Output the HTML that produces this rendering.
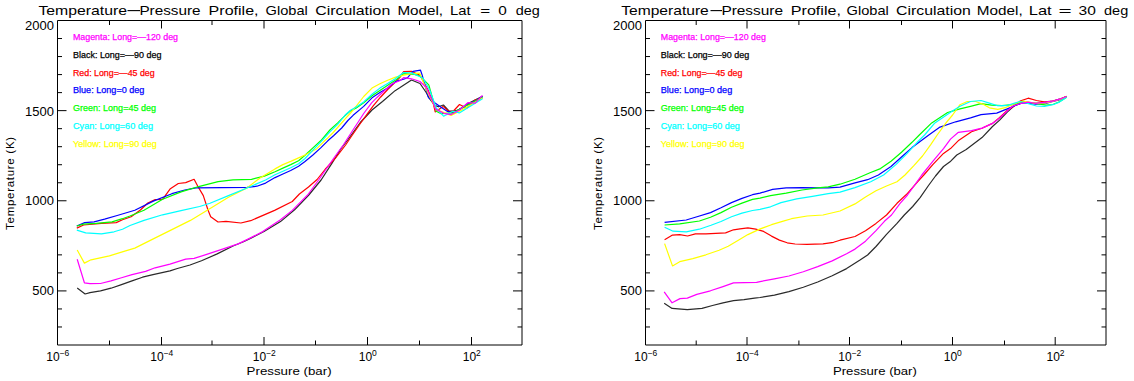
<!DOCTYPE html>
<html><head><meta charset="utf-8"><title>Temperature-Pressure Profile</title><style>
html,body{margin:0;padding:0;background:#fff;width:1134px;height:381px;overflow:hidden}
svg{display:block}
text{font-family:"Liberation Sans", sans-serif}
</style></head><body>
<svg width="1134" height="381" viewBox="0 0 1134 381">
<path d="M57.5 20.5H522V345H57.5Z" fill="none" stroke="#000" stroke-width="1"/>
<path d="M109.50 345v-4.5M109.50 20.5v4.5M161.50 345v-8M161.50 20.5v8M212.00 345v-4.5M212.00 20.5v4.5M264.00 345v-8M264.00 20.5v8M315.50 345v-4.5M315.50 20.5v4.5M367.50 345v-8M367.50 20.5v8M419.50 345v-4.5M419.50 20.5v4.5M471.50 345v-8M471.50 20.5v8M57.5 326.97h4.5M522 326.97h-4.5M57.5 308.94h4.5M522 308.94h-4.5M57.5 290.92h9M522 290.92h-9M57.5 272.89h4.5M522 272.89h-4.5M57.5 254.86h4.5M522 254.86h-4.5M57.5 236.83h4.5M522 236.83h-4.5M57.5 218.81h4.5M522 218.81h-4.5M57.5 200.78h9M522 200.78h-9M57.5 182.75h4.5M522 182.75h-4.5M57.5 164.72h4.5M522 164.72h-4.5M57.5 146.69h4.5M522 146.69h-4.5M57.5 128.67h4.5M522 128.67h-4.5M57.5 110.64h9M522 110.64h-9M57.5 92.61h4.5M522 92.61h-4.5M57.5 74.58h4.5M522 74.58h-4.5M57.5 56.56h4.5M522 56.56h-4.5M57.5 38.53h4.5M522 38.53h-4.5" fill="none" stroke="#000" stroke-width="1"/>
<polyline points="77.2,288.1 85.1,294 90,292.6 100.5,290.9 111,288.2 121.5,284.6 132,280.9 142.5,277.2 153,274.6 170,270.9 177.4,268.5 190,265 201.5,260.7 217.2,253.9 233,246 243.5,241.8 250.9,238.2 264,231.5 280.5,221.6 294.6,209.8 308.8,195 321.1,180 331.9,163.3 341.1,148.5 347.7,140 360.3,122.5 372,110 382.5,101.5 395.1,90.65 399.7,87.8 411.5,80 420,83.5 426.2,92.5 429.2,98.1 434.7,105.4 438.4,106.8 443.4,105 449.4,111.4 457.7,110.4 467.6,103.8 482.5,96.4" fill="none" stroke="#2a2a2a" stroke-width="1.2" stroke-linejoin="round"/>
<polyline points="76.8,228.1 83.6,225 101.5,223.4 116.2,222.6 122.5,219.7 131.1,216.7 140.4,210 147.8,203 155.2,199.6 162.6,199.3 170,189.1 178.3,183.5 185.7,182.6 194.1,179.3 197.8,186.3 203.3,195.6 208,210 210.7,216.7 218,222 226,221.4 240.9,223 250.7,220.7 274.6,210.4 292.3,201.5 299.4,194 308.5,187 317.1,179.5 325,169.5 335.6,157.8 345.6,145 352,135.5 361.4,122 367.7,113.3 373.2,105.88 380.7,96.97 387.7,89.47 395.6,81.91 399.7,77.6 403.6,71.7 411.5,71.3 420,75.2 427.9,89.8 432.9,101.8 435.2,111.9 443,106.4 448.5,111 453,111.5 459.5,104.5 466.8,108.2 475.1,99.9 482.4,98.1" fill="none" stroke="#ff0000" stroke-width="1.2" stroke-linejoin="round"/>
<polyline points="76.8,226 84.7,222.6 94.1,221.8 104.6,219.2 117.2,215.5 134.8,210.2 153.3,201.1 171.9,193.7 184.8,190 195.9,187.8 247,187.4 256.9,186.2 265.6,183.1 275,177.6 282.9,174 290.7,170.5 298.6,166.2 305,161.5 312.9,155 320.7,147.9 327.8,140.8 333.8,135.5 341.7,128 347.9,120.5 353.1,115.31 363.7,106.4 372,97.8 379.9,92.6 387.7,87.9 395.7,81.5 403.6,79.2 407.6,77.6 413,71.3 420.5,70.2 422.1,74.9 428.3,97.2 434.7,102.7 441.1,107.3 447.5,111.4 452.1,112.8 459.3,109.6 467.6,104.6 475.9,100.5 482.5,96.4" fill="none" stroke="#0000ff" stroke-width="1.2" stroke-linejoin="round"/>
<polyline points="76.8,226 83.6,224.2 96.2,223.4 112,221.8 122.5,218.7 130,216 144,210.2 162.6,199.3 181.1,191.9 199.6,186.3 218.1,181.7 233,179.8 251.5,179.3 264.4,176.1 275,171.7 282.9,168.1 290.7,164.6 298.6,160.7 305,155.3 312.9,147.9 320.7,140.8 329.9,130 337.7,122.9 344.8,115.8 350.5,110.86 355.9,108.21 363.7,102.7 372,95.7 379.9,90.5 387.7,85.3 395.6,80.1 403.6,73.7 414.6,74.4 420,76 428.8,84.8 436.2,111.2 441.2,113.7 452.7,112.9 482.5,97.2" fill="none" stroke="#00ff00" stroke-width="1.2" stroke-linejoin="round"/>
<polyline points="77.2,250 84.4,263.1 91,259.8 109.4,255.9 125.6,250.9 134.8,248.1 153.3,238.9 171.9,229.6 190.4,220.4 208.9,209.3 228.5,197.3 247.5,187.6 260,178 275,168.9 282.9,164.6 290.7,161.4 298.6,157.9 305,155 316.8,148.7 323.6,141.8 328,137.7 333.2,132.5 338.5,126.5 345.2,118.8 350.5,113 355.9,106.5 363.7,96.5 372,88.1 379.9,83.7 387.7,80.2 395.6,77.1 403.6,75.2 411.5,73.7 419.7,73.2 427.9,93 436.2,109.6 451.1,115.4 462.6,109.6 482.5,98" fill="none" stroke="#ffff00" stroke-width="1.2" stroke-linejoin="round"/>
<polyline points="76.8,230.2 85.7,232.8 101.5,233.9 114.1,231.8 122.5,229.2 130,225.5 144,220.4 162.6,214.8 181,210.55 199.6,206.48 210,203.26 228.5,195.59 247,188 265.6,180 275,174.8 282.9,171.3 290.7,167.7 298.6,163.8 305,158.5 312.9,150.2 322.3,140.3 329.9,131.9 337.7,124.4 345.2,115 350.5,110.26 355.9,107.21 363.7,101.9 372,94.2 379.9,88.1 387.7,83.4 395.6,78.5 403.6,72.5 411.5,72.9 420,76.8 423,78.2 429.6,89.8 436.2,108 443.6,116.2 452.7,111.2 459.3,112.9 482.5,98.8" fill="none" stroke="#00ffff" stroke-width="1.2" stroke-linejoin="round"/>
<polyline points="77.2,259.2 84.4,282.8 90,283.6 100.5,283.5 111,280.9 121.5,277.7 132,274.6 145.6,271.4 155.1,267.8 170,264.1 185.7,259.1 194.1,258.4 206.7,254.4 222.5,249.1 238.2,243.9 250,238.1 262.7,231.6 280.5,219.8 292.3,210.4 301.7,200.9 307.6,195 318.6,180 325.5,170 334.9,156.5 343.3,145 352,131.5 358.2,122 363.7,113.51 371.6,102.86 377,97.44 383.8,91.22 391.7,83.98 399.7,80.7 403.6,77.6 411.5,78.8 420,81.5 426.2,87.3 431.9,99.9 435.6,109.1 443.9,113.3 451.2,114.6 459.5,110 467.8,102.7 475.1,103.2 482.4,95.3" fill="none" stroke="#ff00ff" stroke-width="1.2" stroke-linejoin="round"/>
<g fill="#000"><text x="38.40" y="14.6" font-size="13.5" textLength="88.62" lengthAdjust="spacingAndGlyphs">Temperature</text><path d="M127.50 10.6H140.00" stroke="#000" stroke-width="1.1"/><text x="139.40" y="14.6" font-size="13.5" textLength="61.23" lengthAdjust="spacingAndGlyphs">Pressure</text><text x="208.60" y="14.6" font-size="13.5" textLength="49.93" lengthAdjust="spacingAndGlyphs">Profile,</text><text x="265.60" y="14.6" font-size="13.5" textLength="42.24" lengthAdjust="spacingAndGlyphs">Global</text><text x="315.20" y="14.6" font-size="13.5" textLength="75.03" lengthAdjust="spacingAndGlyphs">Circulation</text><text x="397.40" y="14.6" font-size="13.5" textLength="45.68" lengthAdjust="spacingAndGlyphs">Model,</text><text x="450.00" y="14.6" font-size="13.5" textLength="20.63" lengthAdjust="spacingAndGlyphs">Lat</text><text x="480.20" y="14.6" font-size="13.5" textLength="9.95" lengthAdjust="spacingAndGlyphs">=</text><text x="498.20" y="14.6" font-size="13.5" textLength="8.54" lengthAdjust="spacingAndGlyphs">0</text><text x="515.80" y="14.6" font-size="13.5" textLength="24.05" lengthAdjust="spacingAndGlyphs">deg</text></g>
<text x="54" y="29.6" font-size="13" text-anchor="end" fill="#000">2000</text>
<text x="54" y="115.9" font-size="13" text-anchor="end" fill="#000">1500</text>
<text x="54" y="205.4" font-size="13" text-anchor="end" fill="#000">1000</text>
<text x="54" y="295.4" font-size="13" text-anchor="end" fill="#000">500</text>
<text x="57.80" y="360.8" font-size="12" text-anchor="middle" fill="#000">10<tspan dy="-5" font-size="8.5">−6</tspan></text>
<text x="161.80" y="360.8" font-size="12" text-anchor="middle" fill="#000">10<tspan dy="-5" font-size="8.5">−4</tspan></text>
<text x="264.30" y="360.8" font-size="12" text-anchor="middle" fill="#000">10<tspan dy="-5" font-size="8.5">−2</tspan></text>
<text x="367.80" y="360.8" font-size="12" text-anchor="middle" fill="#000">10<tspan dy="-5" font-size="8.5">0</tspan></text>
<text x="471.80" y="360.8" font-size="12" text-anchor="middle" fill="#000">10<tspan dy="-5" font-size="8.5">2</tspan></text>
<text x="246.60" y="374.8" font-size="11.5" textLength="85.03" lengthAdjust="spacingAndGlyphs" fill="#000">Pressure (bar)</text>
<text transform="translate(13.9 229.9) rotate(-90)" x="0" y="0" font-size="11.5" textLength="93" lengthAdjust="spacing" fill="#000">Temperature (K)</text>
<text x="73.00" y="39.7" font-size="9" textLength="105.00" lengthAdjust="spacingAndGlyphs" fill="#ff00ff" stroke="#ff00ff" stroke-width="0.25">Magenta: Long=—120 deg</text>
<text x="73.00" y="57.6" font-size="9" textLength="88.40" lengthAdjust="spacingAndGlyphs" fill="#000" stroke="#000" stroke-width="0.25">Black: Long=—90 deg</text>
<text x="73.00" y="75.5" font-size="9" textLength="81.60" lengthAdjust="spacingAndGlyphs" fill="#ff0000" stroke="#ff0000" stroke-width="0.25">Red: Long=—45 deg</text>
<text x="73.00" y="93.4" font-size="9" textLength="71.41" lengthAdjust="spacingAndGlyphs" fill="#0000ff" stroke="#0000ff" stroke-width="0.25">Blue: Long=0 deg</text>
<text x="73.00" y="111.3" font-size="9" textLength="83.00" lengthAdjust="spacingAndGlyphs" fill="#00ff00" stroke="#00ff00" stroke-width="0.25">Green: Long=45 deg</text>
<text x="73.00" y="129.2" font-size="9" textLength="80.01" lengthAdjust="spacingAndGlyphs" fill="#00ffff" stroke="#00ffff" stroke-width="0.25">Cyan: Long=60 deg</text>
<text x="73.00" y="147.1" font-size="9" textLength="83.80" lengthAdjust="spacingAndGlyphs" fill="#ffff00" stroke="#ffff00" stroke-width="0.25">Yellow: Long=90 deg</text>
<path d="M645.5 20.5H1106V345H645.5Z" fill="none" stroke="#000" stroke-width="1"/>
<path d="M696.20 345v-4.5M696.20 20.5v4.5M747.00 345v-8M747.00 20.5v8M798.90 345v-4.5M798.90 20.5v4.5M849.50 345v-8M849.50 20.5v8M901.50 345v-4.5M901.50 20.5v4.5M952.50 345v-8M952.50 20.5v8M1004.50 345v-4.5M1004.50 20.5v4.5M1055.20 345v-8M1055.20 20.5v8M645.5 326.97h4.5M1106 326.97h-4.5M645.5 308.94h4.5M1106 308.94h-4.5M645.5 290.92h9M1106 290.92h-9M645.5 272.89h4.5M1106 272.89h-4.5M645.5 254.86h4.5M1106 254.86h-4.5M645.5 236.83h4.5M1106 236.83h-4.5M645.5 218.81h4.5M1106 218.81h-4.5M645.5 200.78h9M1106 200.78h-9M645.5 182.75h4.5M1106 182.75h-4.5M645.5 164.72h4.5M1106 164.72h-4.5M645.5 146.69h4.5M1106 146.69h-4.5M645.5 128.67h4.5M1106 128.67h-4.5M645.5 110.64h9M1106 110.64h-9M645.5 92.61h4.5M1106 92.61h-4.5M645.5 74.58h4.5M1106 74.58h-4.5M645.5 56.56h4.5M1106 56.56h-4.5M645.5 38.53h4.5M1106 38.53h-4.5" fill="none" stroke="#000" stroke-width="1"/>
<polyline points="664.2,303.2 672.1,308.4 687.3,309.7 702,308.4 712.5,305.5 723,302.8 733.5,300.7 744,299.7 754.5,298.1 760,297.5 774.4,295.06 788.9,291.63 803.3,287.3 817.7,282 832.2,275.8 846.6,268.6 860,260.1 867.6,255 876,246.5 886.5,234.4 897,223.4 904.3,215 912.7,206.5 920.1,197.6 928.5,185.5 935.5,176 943.5,166.5 950,161.8 956.8,155 966.2,149.6 982,137.6 992.5,126.5 999.9,119.9 1007.2,112 1014,106 1023,102.5 1035.7,103.4 1044.3,102.4 1052.8,101.1 1059.4,99.2 1066.6,96.5" fill="none" stroke="#2a2a2a" stroke-width="1.2" stroke-linejoin="round"/>
<polyline points="664.6,239.7 672.5,235.1 679.7,234.7 687.6,236 695.4,233.8 705.9,233.8 725.6,232.9 733.5,229.8 740,228.8 747.9,227.9 755.7,229.1 763.6,231.4 771.5,236.1 779.4,240.1 787.2,242.8 795.1,244 806.9,244.4 823,243.9 833.5,242.3 840,240.2 855,236.5 865.5,230.7 876,223.4 886.5,215 897,203.3 907.5,193.4 918,181.3 923.8,175 933,164.4 943.5,153.4 950.5,148.6 958.9,140.2 971.5,131.8 982,128.3 992.5,123.4 998.8,118.3 1007.2,110.5 1014.6,105.7 1020,101.1 1028.2,98.2 1036.4,100.5 1044.3,101.8 1052.8,101.1 1059.4,99.5 1066.6,96.2" fill="none" stroke="#ff0000" stroke-width="1.2" stroke-linejoin="round"/>
<polyline points="664.6,222.4 686.2,220 697,216.7 710.5,212.6 721,207.8 731.5,202.6 742,198.4 752.5,194.7 760,193.1 772.6,189.4 786.2,187.9 802,187.6 817.7,187.9 828.2,187.9 840,187.1 855,182.9 867.6,179.7 878.4,175 891,166.5 901.5,157 912,147.6 920.4,141.3 928.8,135 940,127.1 955.7,121.8 970.5,117.8 981,114.7 996.7,113.1 1007.2,108.9 1014.6,105.7 1023,102.6 1035.7,104.1 1046,103.5 1052.8,101.5 1059.4,99.8 1066.6,96.8" fill="none" stroke="#0000ff" stroke-width="1.2" stroke-linejoin="round"/>
<polyline points="664.6,225 679.7,223.9 699.4,221 710.5,217.3 721,212.6 731.5,207.3 742,203.1 752.5,199.4 760,198.1 770.5,195.7 786.2,193.1 802,190 817.7,187.9 828.2,186.8 840,184.2 855,179.2 870,172.8 880.5,168.6 891,161.2 901.5,152.3 912,142.3 919.3,135 931.7,122.9 947.6,112.5 960,108.9 970.5,106.3 981,103.6 991.5,105.2 1002,105.7 1012.5,104.7 1023,101.5 1033.5,103.1 1046.2,105.1 1052.8,104.5 1059.4,101.8 1066.6,97.2" fill="none" stroke="#00ff00" stroke-width="1.2" stroke-linejoin="round"/>
<polyline points="664.6,243.6 672.5,265.9 679.7,261.7 692.8,258.7 705.9,254.8 719.1,250.2 728.2,246.2 740,239.3 747.9,234.6 759.7,229.1 771.5,224.7 783.3,221.2 791.5,218.7 807.2,216 823,215 840,211 855,203.9 865.5,197 876,190.7 886.5,186 897,181.8 905,175 914.1,165.4 922.5,156 930.9,144.4 937.2,135 946,122.9 952.6,115 960,104.7 967.3,101.5 975.7,101.5 983.1,104.2 989.4,107.8 997.8,109.4 1006.2,107.3 1014.6,103.6 1023,101 1035.7,103.4 1046,102.8 1052.8,101.5 1059.4,99.5 1066.6,96.8" fill="none" stroke="#ffff00" stroke-width="1.2" stroke-linejoin="round"/>
<polyline points="664.6,227.2 673.1,231.2 686.2,231.8 699.4,229.2 711,225.2 721,221.5 731.5,216.8 742,213.1 752.5,210.5 760,209.4 770.5,206.8 781,202.6 796.7,198.9 812.5,196.3 828.2,193.6 840,192.1 855,187.6 870.7,181.8 883.6,175 896.2,164.4 906.7,153.9 917.2,142.3 924.6,135 934.9,122.9 952.4,111 960,106.3 970.5,101.5 981,100.5 989.4,103.1 997.8,105.7 1006.2,105.7 1014.6,103.1 1020,101.5 1028.5,103.7 1036.4,106 1044.3,106.4 1052.8,104.7 1059.4,102.1 1066.6,97.2" fill="none" stroke="#00ffff" stroke-width="1.2" stroke-linejoin="round"/>
<polyline points="664.2,291.8 672.1,302.8 680,298.6 687.3,298.1 696.8,294.4 710.4,290.8 723,286.6 733.5,282.9 744,282.6 756.6,282.4 760,281.6 774.4,278.9 788.9,276 803.3,271.7 817.7,266.6 832.2,260.9 846.6,253.7 855,249.1 865.5,241.2 876,230.7 884.4,221.3 891.5,215 900.1,203.3 907.5,195 915.9,183.4 921.8,175 933,161.2 943.5,148.6 950.5,139.1 958.4,132.3 971.5,130.7 982,128.1 992.5,123.4 1000,117.8 1007.2,111 1012.5,106.3 1020,103.7 1027.9,102.1 1035.7,103.4 1044.3,102.4 1052.8,101.1 1059.4,99.2 1066.6,96.5" fill="none" stroke="#ff00ff" stroke-width="1.2" stroke-linejoin="round"/>
<g fill="#000"><text x="621.20" y="14.6" font-size="13.5" textLength="87.60" lengthAdjust="spacingAndGlyphs">Temperature</text><path d="M710.50 10.6H722.00" stroke="#000" stroke-width="1.1"/><text x="721.40" y="14.6" font-size="13.5" textLength="61.67" lengthAdjust="spacingAndGlyphs">Pressure</text><text x="790.80" y="14.6" font-size="13.5" textLength="50.11" lengthAdjust="spacingAndGlyphs">Profile,</text><text x="846.60" y="14.6" font-size="13.5" textLength="42.24" lengthAdjust="spacingAndGlyphs">Global</text><text x="896.00" y="14.6" font-size="13.5" textLength="74.86" lengthAdjust="spacingAndGlyphs">Circulation</text><text x="976.80" y="14.6" font-size="13.5" textLength="45.92" lengthAdjust="spacingAndGlyphs">Model,</text><text x="1028.80" y="14.6" font-size="13.5" textLength="22.90" lengthAdjust="spacingAndGlyphs">Lat</text><text x="1058.40" y="14.6" font-size="13.5" textLength="13.13" lengthAdjust="spacingAndGlyphs">=</text><text x="1078.60" y="14.6" font-size="13.5" textLength="17.30" lengthAdjust="spacingAndGlyphs">30</text><text x="1104.00" y="14.6" font-size="13.5" textLength="24.22" lengthAdjust="spacingAndGlyphs">deg</text></g>
<text x="642" y="29.6" font-size="13" text-anchor="end" fill="#000">2000</text>
<text x="642" y="115.9" font-size="13" text-anchor="end" fill="#000">1500</text>
<text x="642" y="205.4" font-size="13" text-anchor="end" fill="#000">1000</text>
<text x="642" y="295.4" font-size="13" text-anchor="end" fill="#000">500</text>
<text x="645.80" y="360.8" font-size="12" text-anchor="middle" fill="#000">10<tspan dy="-5" font-size="8.5">−6</tspan></text>
<text x="747.30" y="360.8" font-size="12" text-anchor="middle" fill="#000">10<tspan dy="-5" font-size="8.5">−4</tspan></text>
<text x="849.80" y="360.8" font-size="12" text-anchor="middle" fill="#000">10<tspan dy="-5" font-size="8.5">−2</tspan></text>
<text x="952.80" y="360.8" font-size="12" text-anchor="middle" fill="#000">10<tspan dy="-5" font-size="8.5">0</tspan></text>
<text x="1055.50" y="360.8" font-size="12" text-anchor="middle" fill="#000">10<tspan dy="-5" font-size="8.5">2</tspan></text>
<text x="833.00" y="374.8" font-size="11.5" textLength="83.83" lengthAdjust="spacingAndGlyphs" fill="#000">Pressure (bar)</text>
<text transform="translate(601.9 229.9) rotate(-90)" x="0" y="0" font-size="11.5" textLength="93" lengthAdjust="spacing" fill="#000">Temperature (K)</text>
<text x="660.80" y="39.7" font-size="9" textLength="105.01" lengthAdjust="spacingAndGlyphs" fill="#ff00ff" stroke="#ff00ff" stroke-width="0.25">Magenta: Long=—120 deg</text>
<text x="660.80" y="57.6" font-size="9" textLength="88.41" lengthAdjust="spacingAndGlyphs" fill="#000" stroke="#000" stroke-width="0.25">Black: Long=—90 deg</text>
<text x="660.80" y="75.5" font-size="9" textLength="81.61" lengthAdjust="spacingAndGlyphs" fill="#ff0000" stroke="#ff0000" stroke-width="0.25">Red: Long=—45 deg</text>
<text x="660.80" y="93.4" font-size="9" textLength="71.42" lengthAdjust="spacingAndGlyphs" fill="#0000ff" stroke="#0000ff" stroke-width="0.25">Blue: Long=0 deg</text>
<text x="660.80" y="111.3" font-size="9" textLength="83.01" lengthAdjust="spacingAndGlyphs" fill="#00ff00" stroke="#00ff00" stroke-width="0.25">Green: Long=45 deg</text>
<text x="660.80" y="129.2" font-size="9" textLength="79.02" lengthAdjust="spacingAndGlyphs" fill="#00ffff" stroke="#00ffff" stroke-width="0.25">Cyan: Long=60 deg</text>
<text x="660.80" y="147.1" font-size="9" textLength="83.80" lengthAdjust="spacingAndGlyphs" fill="#ffff00" stroke="#ffff00" stroke-width="0.25">Yellow: Long=90 deg</text>
</svg></body></html>
